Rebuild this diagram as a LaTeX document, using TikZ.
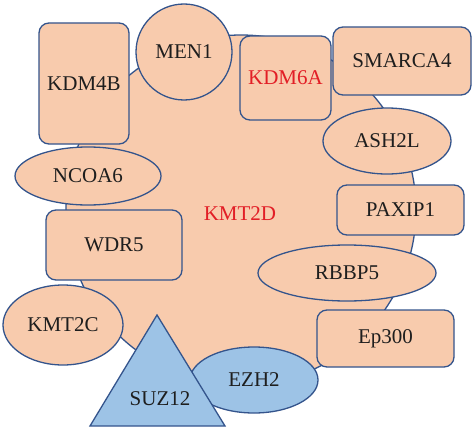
\documentclass[tikz,border=0pt]{standalone}
\usepackage{fontspec}
\setmainfont{Liberation Serif}
\usetikzlibrary{shapes.geometric}
\definecolor{peach}{RGB}{248,203,173}
\definecolor{lblue}{RGB}{157,195,230}
\definecolor{edgeblue}{RGB}{52,84,140}
\definecolor{txt}{RGB}{30,30,30}
\definecolor{redtxt}{RGB}{226,30,38}
\tikzset{
  base/.style={draw=edgeblue, line width=1.3pt, fill=peach, inner sep=0pt, outer sep=0pt,
    text=txt, font=\fontsize{21}{24}\selectfont},
  rbox/.style={base, rectangle, rounded corners=10pt},
  ell/.style={base, ellipse},
  circ/.style={base, circle},
  blueshape/.style={base, fill=lblue},
  lbl/.style={inner sep=0pt, text=txt, font=\fontsize{21}{24}\selectfont},
}
\begin{document}
\begin{tikzpicture}[x=1pt,y=-1pt]
\useasboundingbox (0,0) rectangle (474,428);
% big KMT2D blob
\node[circ, minimum size=350pt] (kmt2d) at (241,210) {};
\node[lbl, text=redtxt] (kmt2dlbl) at (240,214) {KMT2D};
% surrounding proteins
\node[rbox, minimum width=90pt, minimum height=121pt] (kdm4b) at (84,83.5) {KDM4B};
\node[circ, minimum size=96pt] (men1) at (184,52) {MEN1};
\node[rbox, minimum width=91pt, minimum height=84pt, text=redtxt] (kdm6a) at (285.5,78) {KDM6A};
\node[rbox, minimum width=138pt, minimum height=68pt] (smarca4) at (402,61) {SMARCA4};
\node[ell, minimum width=146pt, minimum height=58pt] (ncoa6) at (88,176) {NCOA6};
\node[ell, minimum width=128pt, minimum height=66pt] (ash2l) at (387,141) {ASH2L};
\node[rbox, minimum width=127pt, minimum height=50pt] (paxip1) at (400.5,210) {PAXIP1};
\node[rbox, minimum width=136pt, minimum height=70pt] (wdr5) at (114,245) {WDR5};
\node[ell, minimum width=178pt, minimum height=56pt] (rbbp5) at (347,273) {RBBP5};
\node[ell, minimum width=120pt, minimum height=80pt] (kmt2c) at (63,325) {KMT2C};
\node[rbox, minimum width=137pt, minimum height=57pt] (ep300) at (385.5,338.5) {Ep300};
\node[ell, blueshape, minimum width=128pt, minimum height=66pt] (ezh2) at (254,380) {EZH2};
% SUZ12 triangle
\coordinate (sa) at (157,315);
\coordinate (sb) at (90,426);
\coordinate (sc) at (225,426);
\draw[draw=edgeblue, line width=1.3pt, fill=lblue, line join=miter] (sa) -- (sb) -- (sc) -- cycle;
\node[lbl] (suz12) at (160,399) {SUZ12};
\end{tikzpicture}
\end{document}
